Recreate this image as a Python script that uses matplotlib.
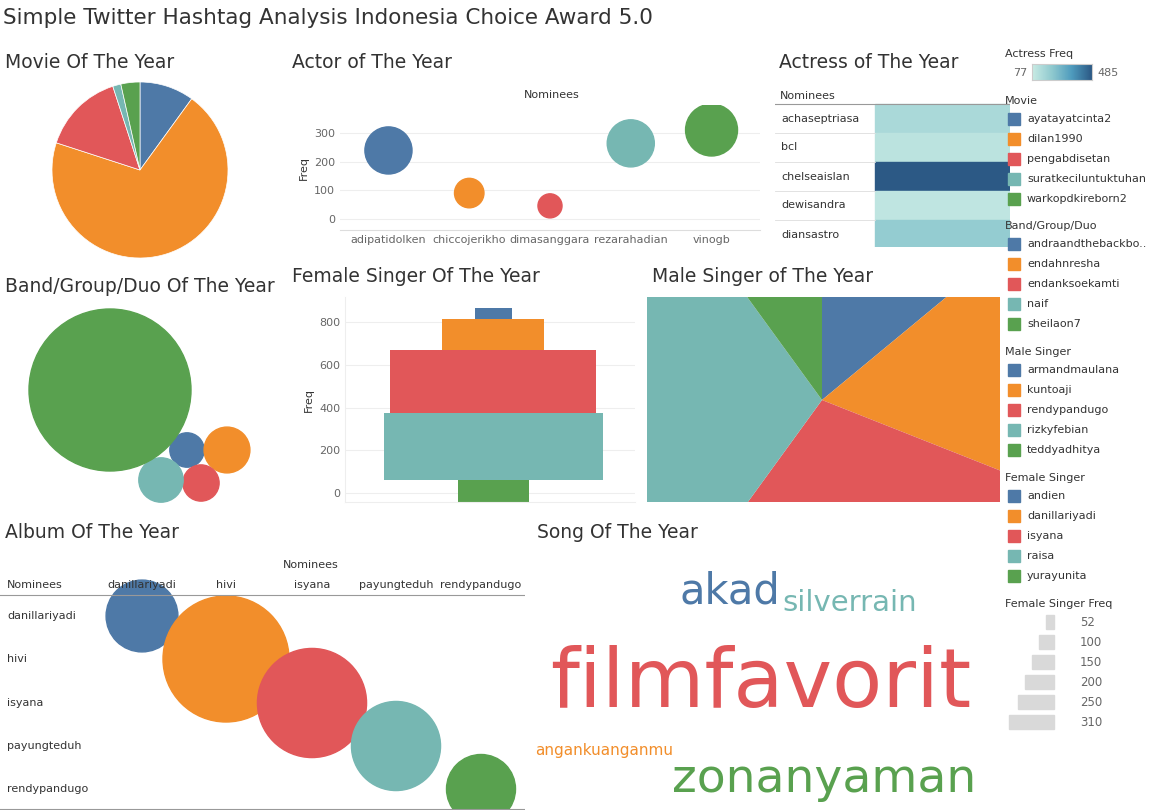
import numpy as np
import matplotlib.pyplot as plt
from matplotlib.patches import Rectangle, Circle
import matplotlib.colors as mcolors

W, H = 1153, 811
BLUE, ORANGE, RED, TEAL, GREEN = "#4e79a7", "#f28e2b", "#e15759", "#76b7b2", "#59a14f"
COLS = [BLUE, ORANGE, RED, TEAL, GREEN]
GREY = "#666666"

movie_names = ["ayatayatcinta2", "dilan1990", "pengabdisetan", "suratkeciluntuktuhan", "warkopdkireborn2"]
movie_freq = [10, 70, 15, 1.5, 3.5]

actor_names = ["adipatidolken", "chiccojerikho", "dimasanggara", "rezarahadian", "vinogb"]
actor_freq = [240, 90, 45, 265, 312]

actress_names = ["achaseptriasa", "bcl", "chelseaislan", "dewisandra", "diansastro"]
actress_freq = [150, 110, 485, 100, 200]

band_names = ["andraandthebackbo..", "endahnresha", "endanksoekamti", "naif", "sheilaon7"]
band_freq = [45, 80, 50, 75, 1000]

female_names = ["andien", "danillariyadi", "isyana", "raisa", "yurayunita"]
female_freq = [52, 145, 293, 312, 102]

male_names = ["armandmaulana", "kuntoaji", "rendypandugo", "rizkyfebian", "teddyadhitya"]
male_share = [14, 17, 29, 30, 10]

album_names = ["danillariyadi", "hivi", "isyana", "payungteduh", "rendypandugo"]
album_freq = [130, 400, 300, 200, 120]

song_words = ["akad", "silverrain", "filmfavorit", "angankuanganmu", "zonanyaman"]


def ax_px(x, y, w, h):
    return fig.add_axes([x / W, 1 - (y + h) / H, w / W, h / H])


def title(x, y, s, size=13.5):
    fig.text(x / W, 1 - y / H, s, fontsize=size, color="#333333", va="center")


def clean(ax):
    for s in ax.spines.values():
        s.set_visible(False)
    ax.set_xticks([])
    ax.set_yticks([])


fig = plt.figure(figsize=(W / 100, H / 100), dpi=100)
fig.text(3 / W, 1 - 18 / H, "Simple Twitter Hashtag Analysis Indonesia Choice Award 5.0",
         fontsize=15.5, color="#333333", va="center")

# Movie pie
title(5, 62, "Movie Of The Year")
ax = ax_px(52, 82, 176, 176)
ax.pie(movie_freq, colors=COLS, startangle=90, counterclock=False,
       wedgeprops=dict(edgecolor="white", linewidth=0.5))
ax.set_xlim(-1, 1)
ax.set_ylim(-1, 1)
ax.set_aspect("equal")

# Actor bubbles
title(292, 62, "Actor of The Year")
fig.text(552 / W, 1 - 95 / H, "Nominees", fontsize=8, color="#333333", ha="center", va="center")
ax = ax_px(340, 105, 420, 125)
xs = np.arange(len(actor_names))
ax.scatter(xs, actor_freq, s=[1150, 450, 300, 1150, 1400], c=COLS, alpha=1, zorder=3)
ax.set_xlim(-0.6, 4.6)
ax.set_ylim(-40, 400)
ax.set_yticks([0, 100, 200, 300])
ax.set_xticks(xs)
ax.set_xticklabels(actor_names, fontsize=8, color=GREY)
ax.tick_params(axis="y", labelsize=8, colors=GREY, length=0)
ax.tick_params(axis="x", length=0)
ax.grid(axis="y", color="#eeeeee")
for s in ["top", "right", "left"]:
    ax.spines[s].set_visible(False)
ax.spines["bottom"].set_color("#dddddd")
ax.set_ylabel("Freq", fontsize=8, color="#333333")

# Actress heatmap
title(779, 62, "Actress of The Year")
cmap = mcolors.LinearSegmentedColormap.from_list("a", ["#c8ebe4", "#8fc9cf", "#4e9bbd", "#2c5985"])
ax = ax_px(775, 87, 235, 160)
ax.set_xlim(0, 235)
ax.set_ylim(160, 0)
clean(ax)
fig.text(780 / W, 1 - 96 / H, "Nominees", fontsize=8, color="#333333", va="center")
for i, (n, v) in enumerate(zip(actress_names, actress_freq)):
    y0 = 17 + i * 29
    ax.add_patch(Rectangle((100, y0), 135, 29, color=cmap((v - 77) / (485 - 77))))
    ax.text(6, y0 + 14.5, n, fontsize=8, color="#333333", va="center")
    ax.plot([0, 100], [y0, y0], color="#dddddd", lw=0.6)
ax.plot([0, 235], [17, 17], color="#999999", lw=0.8)

# Band bubbles
title(5, 287, "Band/Group/Duo Of The Year")
ax = ax_px(0, 300, 280, 210)
ax.set_xlim(0, 280)
ax.set_ylim(510, 300)
clean(ax)
band_pos = [(187, 450), (227, 450), (201, 483), (161, 480), (110, 390)]
for (cx, cy), v, c in zip(band_pos, band_freq, COLS):
    ax.add_patch(Circle((cx, cy), 81 * np.sqrt(v / 1000), color=c))

# Female singer
title(292, 276, "Female Singer Of The Year")
ax = ax_px(345, 297, 290, 205)
order = [4, 3, 2, 1, 0]
bottom = -40
for i in order:
    ax.bar(0.015, female_freq[i], width=female_freq[i] * 0.00315, bottom=bottom, color=COLS[i])
    bottom += female_freq[i]
ax.set_xlim(-0.65, 0.65)
ax.set_ylim(-40, 915)
ax.set_yticks([0, 200, 400, 600, 800])
ax.tick_params(axis="y", labelsize=8, colors=GREY, length=0)
ax.set_xticks([])
ax.grid(axis="y", color="#eeeeee")
ax.set_axisbelow(True)
for s in ["top", "right"]:
    ax.spines[s].set_visible(False)
ax.spines["left"].set_color("#eeeeee")
ax.spines["bottom"].set_color("#eeeeee")
ax.set_ylabel("Freq", fontsize=8, color="#333333")

# Male singer (cropped pie)
title(652, 276, "Male Singer of The Year")
ax = ax_px(647, 297, 353, 205)
wedges, _ = ax.pie(male_share, colors=COLS, startangle=90, counterclock=False, radius=5, center=(0, 0))
for wd in wedges:
    wd.set_clip_on(True)
    wd.set_clip_path(ax.patch)
ax.set_aspect("auto")
ax.set_xlim(-175 / 100, 178 / 100)
ax.set_ylim(-102 / 100, 103 / 100)

# Album bubbles
title(5, 532, "Album Of The Year")
ax = ax_px(0, 575, 525, 235)
ax.set_xlim(0, 525)
ax.set_ylim(810, 575)
clean(ax)
fig.text(311 / W, 1 - 565 / H, "Nominees", fontsize=8, color="#333333", ha="center", va="center")
fig.text(7 / W, 1 - 585 / H, "Nominees", fontsize=8, color="#333333", va="center")
ax.plot([0, 525], [595, 595], color="#999999", lw=0.8)
ax.plot([0, 525], [809, 809], color="#999999", lw=0.8)
col_x = [142, 226, 312, 396, 481]
row_y = [616, 659, 703, 746, 789]
for i, n in enumerate(album_names):
    ax.text(col_x[i], 585, n, fontsize=8, color="#333333", ha="center", va="center")
    ax.text(7, row_y[i], n, fontsize=8, color="#333333", va="center")
    r = 63 * np.sqrt(album_freq[i] / 400)
    ax.add_patch(Circle((col_x[i], row_y[i]), r, color=COLS[i]))

# Song word cloud
title(537, 532, "Song Of The Year")
fig.text(680 / W, 1 - 592 / H, song_words[0], fontsize=30, color=BLUE, va="center")
fig.text(782 / W, 1 - 603 / H, song_words[1], fontsize=21, color=TEAL, va="center")
fig.text(550 / W, 1 - 685 / H, song_words[2], fontsize=59, color=RED, va="center")
fig.text(535 / W, 1 - 751 / H, song_words[3], fontsize=11, color=ORANGE, va="center")
fig.text(672 / W, 1 - 780 / H, song_words[4], fontsize=34, color=GREEN, va="center")

# Legends
fig.text(1005 / W, 1 - 54 / H, "Actress Freq", fontsize=8, color="#333333", va="center")
cax = ax_px(1032, 64, 60, 16)
cax.imshow(np.linspace(0, 1, 100)[None, :], cmap=cmap, aspect="auto")
clean(cax)
for s in cax.spines.values():
    s.set_visible(True)
    s.set_color("#cccccc")
fig.text(1027 / W, 1 - 73 / H, "77", fontsize=8, color=GREY, ha="right", va="center")
fig.text(1097 / W, 1 - 73 / H, "485", fontsize=8, color=GREY, va="center")


def legend_block(y, head, names):
    fig.text(1005 / W, 1 - y / H, head, fontsize=8, color="#333333", va="center")
    for i, n in enumerate(names):
        yy = y + 18 + i * 20
        fig.patches.append(Rectangle((1008 / W, 1 - (yy + 6) / H), 12 / W, 12 / H,
                                     color=COLS[i], transform=fig.transFigure))
        fig.text(1027 / W, 1 - yy / H, n, fontsize=8, color="#333333", va="center")


legend_block(101, "Movie", movie_names)
legend_block(226, "Band/Group/Duo", band_names)
legend_block(352, "Male Singer", male_names)
legend_block(478, "Female Singer", female_names)

fig.text(1005 / W, 1 - 604 / H, "Female Singer Freq", fontsize=8, color="#333333", va="center")
leg_vals = [52, 100, 150, 200, 250, 310]
for i, v in enumerate(leg_vals):
    yy = 622 + i * 20
    w = 45 * v / 310
    fig.patches.append(Rectangle(((1054 - w) / W, 1 - (yy + 7) / H), w / W, 14 / H,
                                 color="#d9d9d9", transform=fig.transFigure))
    fig.text(1080 / W, 1 - yy / H, str(v), fontsize=8.5, color=GREY, va="center")

fig.savefig("out.png", dpi=100)
